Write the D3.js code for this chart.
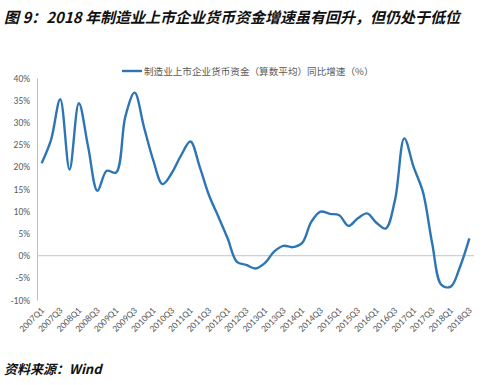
<!DOCTYPE html>
<html>
<head>
<meta charset="utf-8">
<script src="https://cdn.jsdelivr.net/npm/d3@7"></script>
<style>
  body { margin: 0; background: #fff; }
  svg { display: block; }
</style>
</head>
<body>
<svg id="chart" width="500" height="385"></svg>
<script>
// quarters 2007Q1 .. 2018Q3
const quarters = [];
for (let y = 2007; y <= 2018; y++) {
    for (let q = 1; q <= 4; q++) {
        if (y === 2018 && q > 3) break;
        quarters.push(y + 'Q' + q);
    }
}

// 同比增速 (%)
const growth = [
    20.8, 26.0, 35.2, 19.4, 34.3, 24.5, 14.6, 19.1, 18.7, 31.3,
    36.7, 29.0, 21.5, 16.1, 18.6, 22.6, 25.7, 20.0, 13.6, 8.8,
    3.9, -1.4, -2.1, -2.9, -1.7, 0.9, 2.2, 1.9, 2.8, 7.6,
    9.9, 9.4, 9.1, 6.7, 8.4, 9.5, 7.4, 6.1, 12.5, 26.4,
    20.0, 14.4, 2.8, -6.6, -7.0, -2.5, 3.9
];

const yTicks = [-10, -5, 0, 5, 10, 15, 20, 25, 30, 35, 40];

const titleText = '图 9：2018 年制造业上市企业货币资金增速虽有回升，但仍处于低位';
const legendText = '制造业上市企业货币资金（算数平均）同比增速（%）';
const sourceText = '资料来源：Wind';

const svg = d3.select('#chart');
const width = 500;
const plot = {left: 37, right: 474, top: 78, bottom: 300};
const lineColor = '#2e75b6';
const cjk = '"Noto Sans CJK SC", "Noto Sans", sans-serif';
const latin = 'Calibri, "Liberation Sans", sans-serif';

let xScale = d3.scalePoint()
    .domain(quarters)
    .range([plot.left, plot.right])
    .padding(0.5);
let yScale = d3.scaleLinear()
    .domain([-10, 40])
    .range([plot.bottom, plot.top]);

// title
svg.append('text')
    .attr('x', 4).attr('y', 23)
    .attr('font-family', cjk)
    .attr('font-size', 15)
    .attr('font-weight', 'bold')
    .attr('font-style', 'italic')
    .attr('fill', '#111')
    .text(titleText);

// y axis
let yAxis = d3.axisLeft(yScale)
    .tickValues(yTicks)
    .tickSize(0)
    .tickPadding(7)
    .tickFormat(function(d){ return d + '%'; });
let gy = svg.append('g')
    .attr('transform', 'translate(' + plot.left + ',0)')
    .call(yAxis);
gy.select('.domain').attr('stroke', '#bfbfbf');
gy.selectAll('text')
    .attr('font-family', latin)
    .attr('font-size', 9.5)
    .attr('fill', '#595959');

// zero line
svg.append('line')
    .attr('x1', plot.left).attr('x2', plot.right)
    .attr('y1', yScale(0)).attr('y2', yScale(0))
    .attr('stroke', '#d0d0d0')
    .attr('stroke-width', 1.2);

// x labels (every other quarter)
svg.append('g')
    .selectAll('text')
    .data(quarters.filter(function(d, i){ return i % 2 === 0; }))
    .enter()
    .append('text')
    .attr('transform', function(d){
        return 'translate(' + (xScale(d) + 3) + ',' + (plot.bottom + 11) + ') rotate(-45)';
    })
    .attr('text-anchor', 'end')
    .attr('font-family', latin)
    .attr('font-size', 9.5)
    .attr('fill', '#595959')
    .text(function(d){ return d; });

// line
let line = d3.line()
    .x(function(d, i){ return xScale(quarters[i]); })
    .y(function(d){ return yScale(d); })
    .curve(d3.curveCatmullRom.alpha(0.5));
svg.append('path')
    .datum(growth)
    .attr('d', line)
    .attr('fill', 'none')
    .attr('stroke', lineColor)
    .attr('stroke-width', 2.4);

// legend
svg.append('line')
    .attr('x1', 122).attr('x2', 142)
    .attr('y1', 71).attr('y2', 71)
    .attr('stroke', lineColor)
    .attr('stroke-width', 2.4);
svg.append('text')
    .attr('x', 144).attr('y', 74.5)
    .attr('font-family', cjk)
    .attr('font-size', 9.6)
    .attr('fill', '#595959')
    .text(legendText);

// source
svg.append('text')
    .attr('x', 4).attr('y', 374)
    .attr('font-family', cjk)
    .attr('font-size', 13)
    .attr('font-weight', 'bold')
    .attr('font-style', 'italic')
    .attr('fill', '#111')
    .text(sourceText);
</script>
</body>
</html>
